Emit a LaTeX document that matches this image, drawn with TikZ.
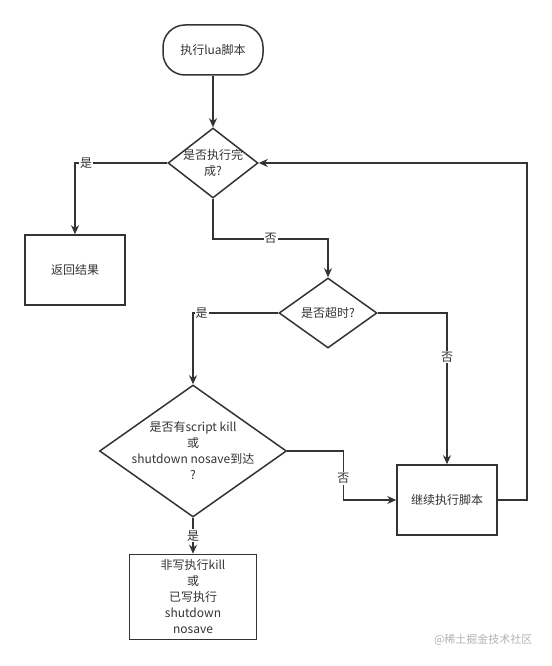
\documentclass[tikz,border=0pt]{standalone}
\usepackage{fontspec}
\setmainfont{Noto Sans CJK SC}
\usetikzlibrary{arrows.meta,calc,positioning,shapes.geometric}
\definecolor{lineagris}{HTML}{333333}
\tikzset{
  inicio/.style={
    rounded corners=22pt,
    draw=lineagris,
    line width=1.5pt,
    minimum width=100pt,
    minimum height=50pt,
    text=lineagris,
    font=\fontsize{12}{16}\selectfont
  },
  bloque/.style={
    draw=lineagris,
    line width=1.5pt,
    align=center,
    minimum width=100pt,
    minimum height=70pt,
    text=lineagris,
    font=\fontsize{12}{16}\selectfont
  },
  decision/.style={
    diamond,
    draw=lineagris,
    line width=1.5pt,
    inner sep=0pt
  },
  dtexto/.style={
    align=center,
    text=lineagris,
    font=\fontsize{12}{16}\selectfont
  },
  etiqueta/.style={
    fill=white,
    inner sep=1pt,
    text=lineagris,
    font=\fontsize{12}{16}\selectfont
  },
  arrow/.style={
    -{Stealth[length=9pt,width=8pt]},
    line width=1.5pt,
    lineagris
  }
}
\begin{document}
\begin{tikzpicture}[x=1pt,y=-1pt]
\useasboundingbox (0,0) rectangle (551,666);
\node[inicio] (start) at (213,50) {执行lua脚本};
\node[decision, minimum width=90pt, minimum height=70pt,
  label={[dtexto]center:{是否执行完\\成?}}] (d1) at (213,163) {};
\node[bloque] (b1) at (75,270) {返回结果};
\node[decision, minimum width=98pt, minimum height=70pt,
  label={[dtexto]center:{是否超时?}}] (d2) at (328,313) {};
\node[decision, minimum width=187pt, minimum height=132pt,
  label={[dtexto]center:{是否有script kill\\或\\shutdown nosave到达\\?}}] (d3) at (193,451) {};
\node[bloque] (b2) at (447,500) {继续执行脚本};
\node[bloque, minimum width=127pt, minimum height=85pt] (b3) at (193,597)
  {非写执行kill\\或\\已写执行\\shutdown\\nosave};
\node[anchor=east, text=gray!60, font=\fontsize{11}{13}\selectfont] (marca) at (536,640) {@稀土掘金技术社区};

\draw[arrow] (start.south) -- (d1.north);
\draw[arrow] (d1.west) -| node[etiqueta, pos=0.44] {是} (b1.north);
\draw[arrow] (d1.south) -- ++(0,40) -| node[etiqueta, pos=0.25] {否} (d2.north);
\draw[arrow] (d2.west) -| node[etiqueta, pos=0.45] {是} (d3.north);
\draw[arrow] (d2.east) -| node[etiqueta, pos=0.645] {否} (b2.north);
\draw[arrow] (d3.east) -- ++(56,0) |- node[etiqueta, pos=0.28] {否} (b2.west);
\draw[arrow] (d3.south) -- node[etiqueta] {是} (b3.north);
\draw[arrow] (b2.east) -- ++(29,0) |- (d1.east);
\end{tikzpicture}
\end{document}
